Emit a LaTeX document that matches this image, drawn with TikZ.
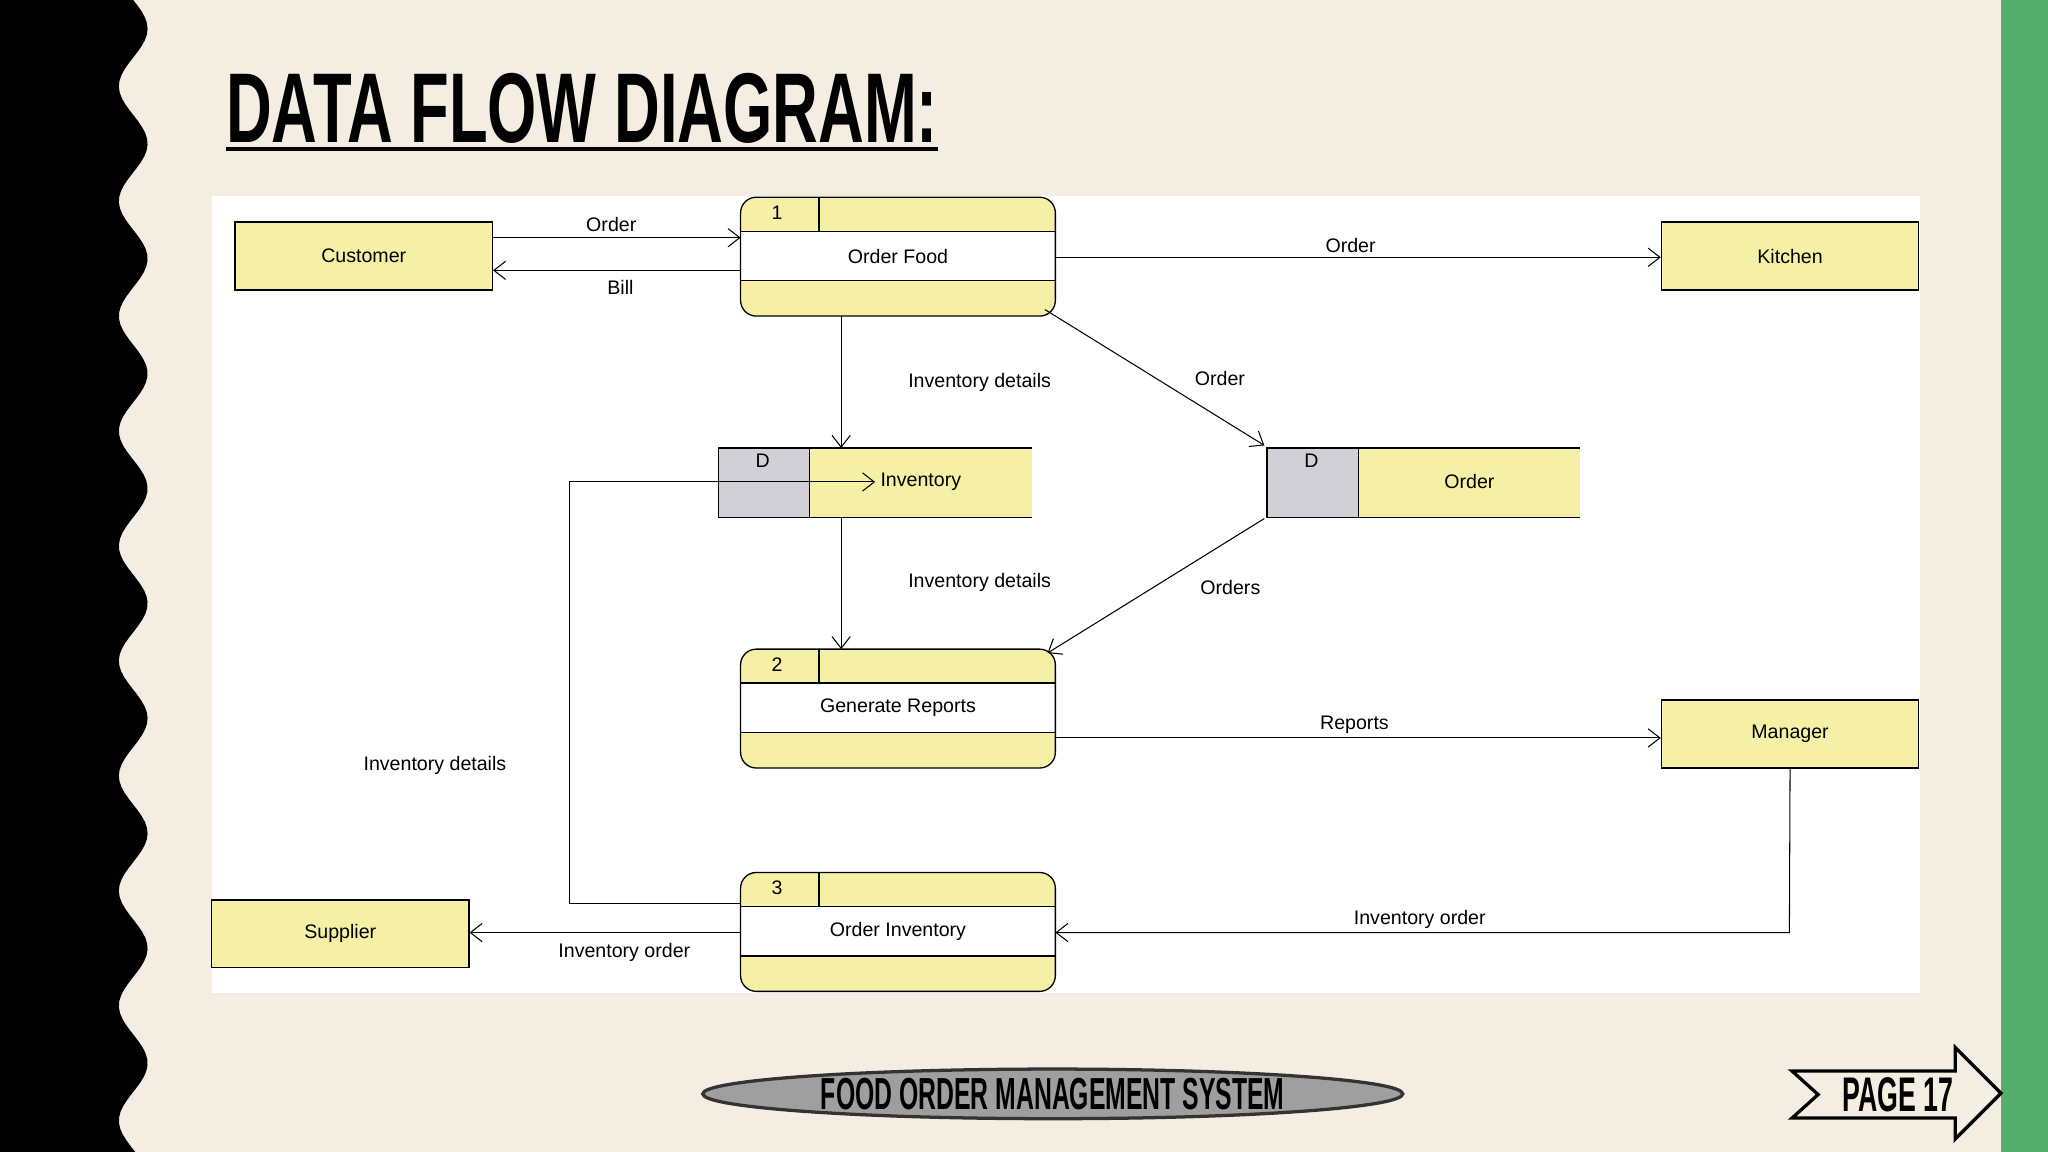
\documentclass[tikz,border=0pt]{standalone}
\usepackage{fontspec}
\setmainfont{Liberation Sans}
\usetikzlibrary{arrows.meta}
\definecolor{bg}{HTML}{F3EEE1}
\definecolor{yel}{HTML}{F6F0A6}
\definecolor{grn}{HTML}{55AE6B}
\definecolor{gr}{HTML}{D0D0D6}
\begin{document}
\begin{tikzpicture}[x=1pt,y=-1pt,
  ent/.style={draw,fill=yel,line width=1pt},
  flow/.style={draw,line width=0.8pt,-{Straight Barb[length=9pt,width=14pt]}},
  lbl/.style={font=\fontsize{15}{15}\selectfont,inner sep=1pt},
  big/.style={font=\bfseries,inner sep=0pt}]
\useasboundingbox (0,0) rectangle (1568,882);
\fill[bg] (0,0) rectangle (1568,882);
\fill[black] (0,0) -- plot[variable=\t,domain=0:882,samples=200] ({102+11*sin(\t/88*360)},\t) -- (0,882) -- cycle;
\fill[grn] (1532,0) rectangle (1568,882);
\node[big,anchor=south west] (title) at (173,110) {\resizebox{545pt}{53pt}{DATA FLOW DIAGRAM:}};
\draw[line width=2.5pt] (173,114) -- (718,114);
\fill[white] (162,150) rectangle (1470,760);
% entities
\node[ent,minimum width=197pt,minimum height=52pt,lbl] (cust) at (278.5,196) {Customer};
\node[ent,minimum width=197pt,minimum height=52pt,lbl] (kit) at (1370.5,196) {Kitchen};
\node[ent,minimum width=197pt,minimum height=52pt,lbl] (man) at (1370.5,562) {Manager};
\node[ent,minimum width=197pt,minimum height=52pt,lbl] (sup) at (260.5,715) {Supplier};
% processes
\foreach \n/\y/\tx/\nm in {1/151/Order Food/p1,2/497/Generate Reports/p2,3/668/Order Inventory/p3}{
  \fill[yel,rounded corners=12pt] (567,\y) rectangle (808,\y+91);
  \fill[white] (567,\y+26) rectangle (808,\y+64);
  \draw[line width=1pt,rounded corners=12pt] (567,\y) rectangle (808,\y+91);
  \draw[line width=1pt] (567,\y+26) -- (808,\y+26) (567,\y+64) -- (808,\y+64) (627,\y) -- (627,\y+26);
  \node[lbl] at (595,\y+12) {\n};
  \node[lbl] at (687.5,\y+45) {\tx};
  \coordinate (\nm) at (687.5,\y+45.5);
}
% stores
\foreach \x/\tx/\nm in {550/Inventory/inv,970/Order/ord}{
  \fill[gr] (\x,343) rectangle (\x+70,396);
  \fill[yel] (\x+70,343) rectangle (\x+240,396);
  \draw[line width=1pt] (\x+240,343) -- (\x,343) -- (\x,396) -- (\x+240,396) (\x+70,343) -- (\x+70,396);
  \node[lbl] at (\x+34,353) {D};
  \node[lbl] at (\x+155,369) {\tx};
  \coordinate (\nm) at (\x+120,369.5);
}
% flows
\draw[flow] (cust.east|-0,182) -- (567,182);
\node[lbl] at (468,172) {Order};
\draw[flow] (567,207) -- (cust.east|-0,207);
\node[lbl] at (475,220) {Bill};
\draw[flow] (808,197) -- (kit.west|-0,197);
\node[lbl] at (1034,188) {Order};
\draw[flow] (644,242) -- (644,343);
\node[lbl] at (750,293) {Inventory details};
\draw[flow] (800,237) -- (968,341);
\node[lbl] at (934,290) {Order};
\draw[flow] (644,396) -- (644,497);
\node[lbl] at (750,446) {Inventory details};
\draw[flow] (968,397) -- (802,500);
\node[lbl] at (942,450) {Orders};
\draw[flow] (808,565) -- (man.west|-0,565);
\node[lbl] at (1037,555) {Reports};
\draw[flow] (man.south) -- (1370,714) -- (808,714);
\node[lbl] at (1087,704) {Inventory order};
\draw[flow] (567,714) -- (sup.east|-0,714);
\node[lbl] at (478,729) {Inventory order};
\draw[flow] (567,692) -- (436,692) -- (436,369) -- (inv.west|-0,369);
\node[lbl] at (333,586) {Inventory details};
% footer
\draw[line width=2.5pt,fill=gray!75!white,draw=black!80] (806,837.5) ellipse [x radius=268,y radius=19];
\node[big] (foot) at (806,838) {\resizebox{355pt}{24pt}{FOOD ORDER MANAGEMENT SYSTEM}};
\draw[line width=2.5pt,fill=bg] (1372,820) -- (1497,820) -- (1497,802) -- (1532,837) -- (1497,872) -- (1497,856) -- (1372,856) -- (1392,838) -- cycle;
\node[big] (page) at (1453,838) {\resizebox{85pt}{26pt}{PAGE 17}};
\end{tikzpicture}
\end{document}
